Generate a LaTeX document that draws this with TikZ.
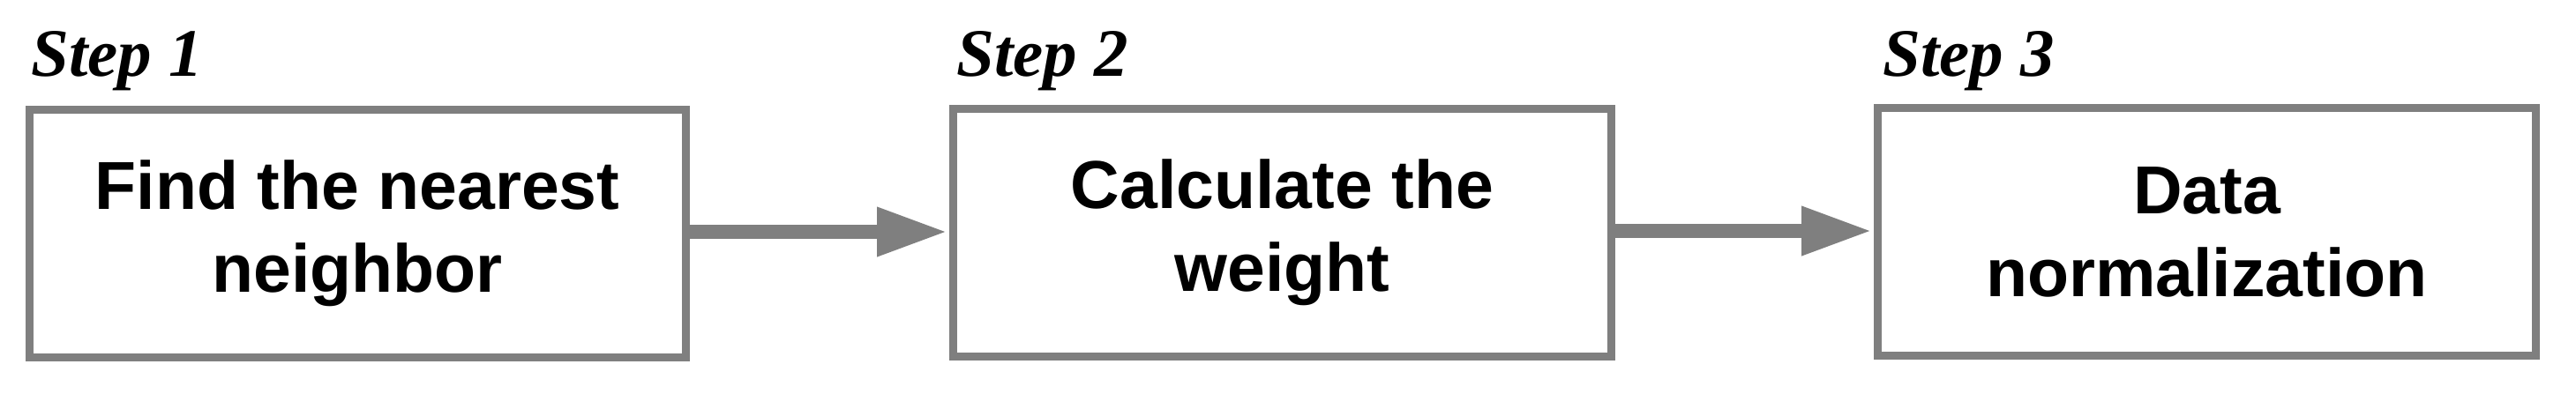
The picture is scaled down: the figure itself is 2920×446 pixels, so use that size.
\documentclass[tikz,border=0pt]{standalone}
\usepackage{fontspec}
\setmainfont{Liberation Serif}
\newfontfamily\arialfont{Liberation Sans}
\usetikzlibrary{arrows.meta}
\definecolor{boxgray}{HTML}{7F7F7F}
\tikzset{
  stepbox/.style={draw=boxgray, line width=4.5pt, fill=white, inner sep=0pt,
    minimum width=373pt, minimum height=140.5pt, align=center,
    font=\arialfont\bfseries\fontsize{38.5}{47}\selectfont},
  steplabel/.style={anchor=base west, inner sep=0pt,
    font=\bfseries\itshape\fontsize{38.5}{44}\selectfont},
  flow/.style={draw=boxgray, line width=8pt,
    -{Triangle[length=40pt,width=26pt]}, shorten >=1pt}
}
\begin{document}
\begin{tikzpicture}[x=0.5pt,y=-0.5pt]
\useasboundingbox[fill=white] (0,0) rectangle (2920,446);
\node[stepbox, minimum width=372pt] (b1) at (405,264.5) {Find the nearest\\neighbor};
\node[stepbox] (b2) at (1453.5,263.5) {Calculate the\\weight};
\node[stepbox] (b3) at (2501.5,263) {Data\\normalization};
\node[steplabel] (s1) at (35,86) {Step 1};
\node[steplabel] (s2) at (1084,86) {Step 2};
\node[steplabel] (s3) at (2134,86) {Step 3};
\draw[flow] (b1.east |- 0,263) -- (b2.west |- 0,263);
\draw[flow] (b2.east |- 0,262) -- (b3.west |- 0,262);
\end{tikzpicture}
\end{document}
